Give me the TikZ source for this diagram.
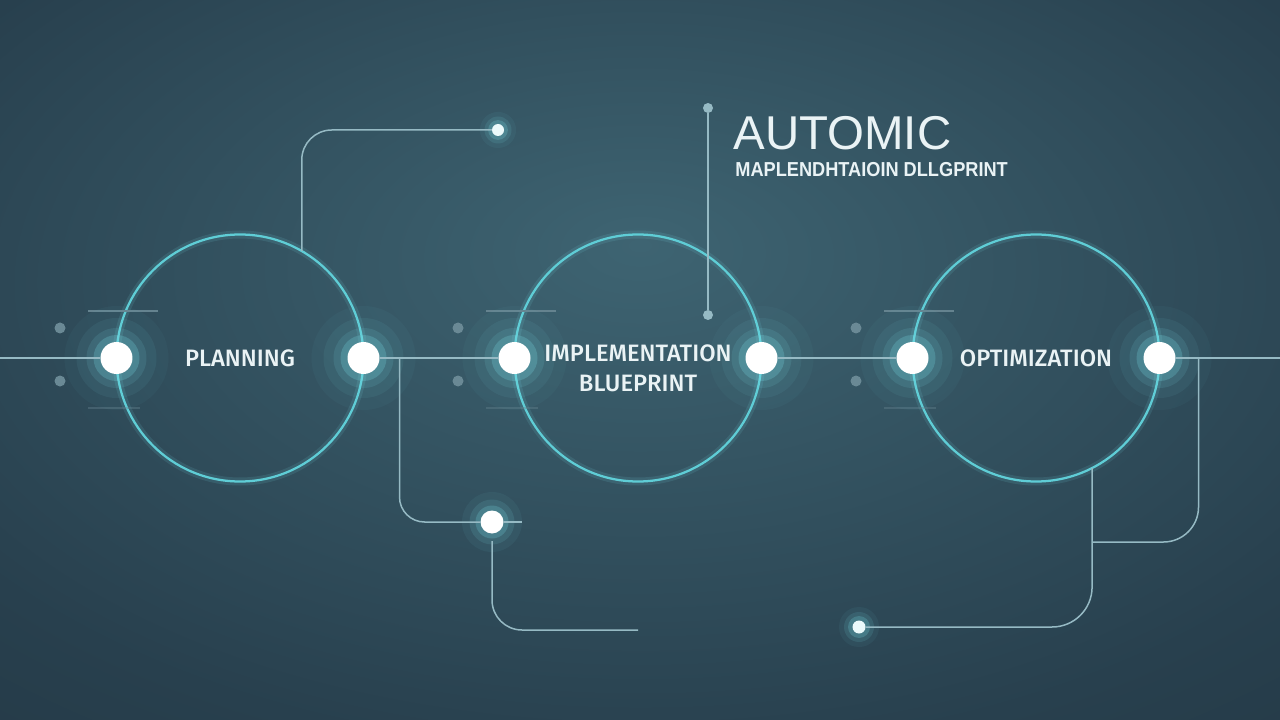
\documentclass[tikz,border=0pt]{standalone}
\usepackage{fontspec}
\setmainfont{Fira Sans}
\newfontfamily\labelfont{Fira Sans Medium}
\newfontfamily\titlefont{Liberation Sans}
\newfontfamily\subfont[FakeStretch=0.9]{Liberation Sans}
\usetikzlibrary{positioning,calc}

\definecolor{bginner}{RGB}{62,100,114}
\definecolor{bgmid}{RGB}{40,64,78}
\definecolor{bgouter}{RGB}{25,39,50}
\definecolor{ringcyan}{RGB}{92,204,212}
\definecolor{halocyan}{RGB}{120,220,230}
\definecolor{wirecol}{RGB}{150,186,196}
\definecolor{textcol}{RGB}{234,243,245}
\pgfdeclareradialshading{backdrop}{\pgfpoint{0bp}{8bp}}{color(0bp)=(bginner); color(32bp)=(bgmid); color(72bp)=(bgouter)}

\begin{document}
\begin{tikzpicture}[x=0.2mm, y=-0.2mm, node distance=79.6mm, on grid,
                    stage ring/.style = {circle, draw=ringcyan, line width=0.45mm, minimum size=49.4mm, inner sep=0pt, outer sep=0pt},
                    stage label/.style = {text=textcol, font=\labelfont\fontsize{13.5}{17}\selectfont, align=center},
                    glow dot/.style = {circle, fill=white, minimum size=6.4mm, inner sep=0pt, outer sep=0pt},
                    spark/.style = {circle, fill=white!85!halocyan, inner sep=0pt, outer sep=0pt},
                    pin dot/.style = {circle, fill=wirecol, minimum size=2mm, inner sep=0pt},
                    side dot/.style = {circle, fill=wirecol!60!bgmid, minimum size=2.2mm, inner sep=0pt},
                    wire/.style = {draw=wirecol, line width=0.3mm},
                    tick/.style = {draw=wirecol!55!bgmid, line width=0.25mm}]
                % backdrop
                \useasboundingbox (0,0) rectangle (1280,720);
                \fill[shading=backdrop] (0,0) rectangle (1280,720);
                % the three stages
                \node at (240,358) [stage ring] (planning) {};
                \node [stage ring, right=of planning] (implementation) {};
                \node [stage ring, right=of implementation] (optimization) {};
                \foreach \c in {planning,implementation,optimization} {
                    \draw[halocyan, opacity=0.12, line width=1.6mm] (\c) circle (123.5);
                    \node at ($(\c)+(-180,-30)$) [side dot] (\c-up) {};
                    \node at ($(\c)+(-180,23)$) [side dot] (\c-dn) {};
                    \draw[tick] ($(\c)+(-152,-47)$) -- ($(\c)+(-82,-47)$);
                    \draw[tick, opacity=0.4] ($(\c)+(-152,50)$) -- ($(\c)+(-100,50)$);
                    \foreach \s in {west,east}
                        \foreach \r/\o in {52/0.04,40/0.07,30/0.12,23/0.24}
                            \fill[halocyan, opacity=\o] (\c.\s) circle (\r);
                }
                \node [stage label] at (planning) (planning-text) {PLANNING};
                \node [stage label] at ($(implementation)+(0,10)$) (implementation-text) {IMPLEMENTATION\\BLUEPRINT};
                \node [stage label] at (optimization) (optimization-text) {OPTIMIZATION};
                % glowing joints on the main line
                \node at (planning.west) [glow dot] (pl-l) {};
                \node at (planning.east) [glow dot] (pl-r) {};
                \node at (implementation.west) [glow dot] (im-l) {};
                \node at (implementation.east) [glow dot] (im-r) {};
                \node at (optimization.west) [glow dot] (op-l) {};
                \node at (optimization.east) [glow dot] (op-r) {};
                % main line
                \coordinate (lft) at (0,358);
                \coordinate (rgt) at (1280,358);
                \draw[wire] (lft) -- (pl-l);
                \draw[wire] (pl-r) -- (im-l);
                \draw[wire] (im-r) -- (op-l);
                \draw[wire] (op-r) -- (rgt);
                % sparks at the loose ends
                \foreach \p/\r in {{498,130}/18, {492,522}/30, {859,627}/20}
                    \foreach \k/\o in {1/0.06,0.75/0.12,0.55/0.22}
                        \fill[halocyan, opacity=\o] (\p) circle ({\r*\k});
                \node at (498,130) [spark, minimum size=2.4mm] (top-spark) {};
                \node at (492,522) [spark, fill=white, minimum size=4.6mm] (mid-spark) {};
                \node at (859,627) [spark, minimum size=2.6mm] (low-spark) {};
                % connectors
                \draw[wire, rounded corners=6mm] (planning.60) |- (top-spark);
                \draw[wire] (pl-r.east) -- ++(20,0) [rounded corners=5mm] |- (mid-spark);
                \coordinate (mid-end) at (522,522);
                \draw[wire] (mid-spark) -- (mid-end);
                \coordinate (low-end) at (638,630);
                \draw[wire, rounded corners=6mm] ([yshift=-1.5mm]mid-spark.south) |- (low-end);
                \draw[wire, rounded corners=8mm] (optimization.-63) |- (low-spark);
                \coordinate (op-join) at ($(optimization.-63)+(0,0)$);
                \draw[wire] (op-r.east) -- ++(23,0) [rounded corners=7mm] |- (op-join |- 0,542);
                % title block
                \node at (708,108) [pin dot] (pin-top) {};
                \node at (708,315) [pin dot] (pin-low) {};
                \draw[wire] (pin-top) -- (pin-low);
                \node at (733,150) [anchor=base west, inner sep=0pt, text=textcol, font=\titlefont\fontsize{27}{30}\selectfont] (title) {AUTOMIC};
                \node at (735,177) [anchor=base west, inner sep=0pt, text=textcol, font=\subfont\bfseries\fontsize{11.5}{13}\selectfont] (subtitle) {MAPLENDHTAIOIN DLLGPRINT};
            \end{tikzpicture}
\end{document}
